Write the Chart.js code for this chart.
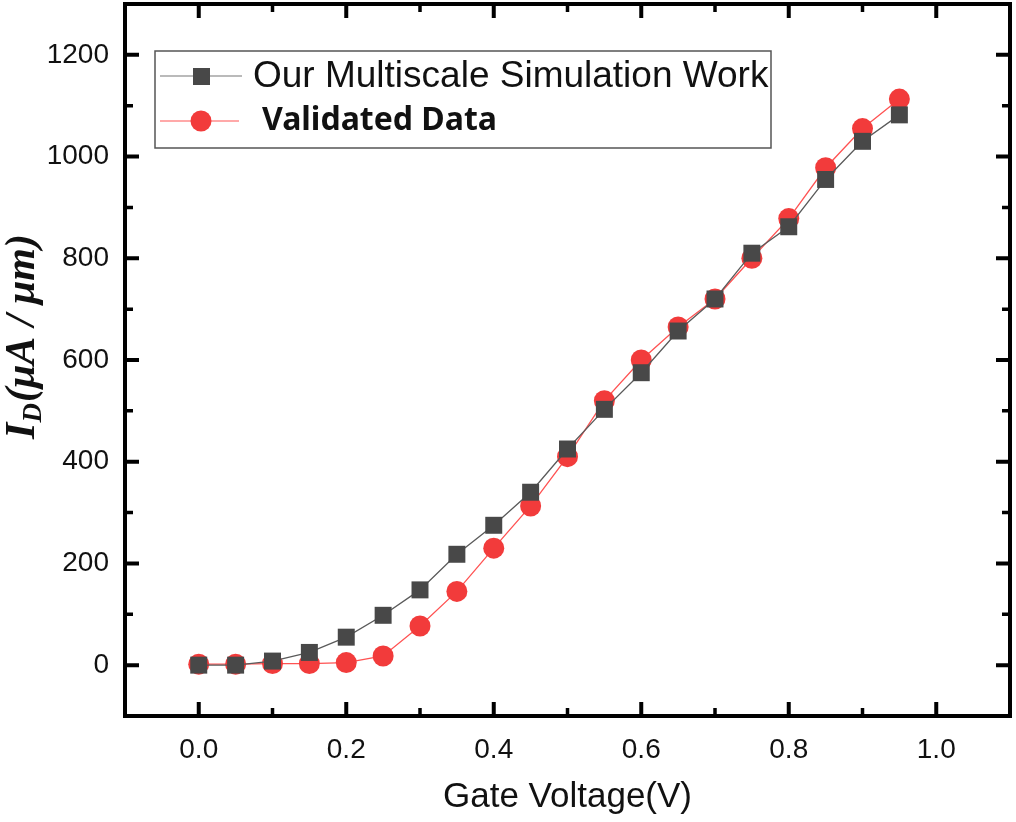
<!DOCTYPE html>
<html>
<head>
<meta charset="utf-8">
<script src="https://cdn.jsdelivr.net/npm/chart.js@4.4.1/dist/chart.umd.min.js"></script>
<style>
  html, body { margin: 0; padding: 0; background: #fff; }
  #wrap { width: 1016px; height: 822px; }
</style>
</head>
<body>
<div id="wrap"><canvas id="myChart" width="1016" height="822"></canvas></div>
<script>
// gate voltage steps (V)
const gateVoltage = [0.0, 0.05, 0.1, 0.15, 0.2, 0.25, 0.3, 0.35, 0.4, 0.45, 0.5, 0.55, 0.6, 0.65, 0.7, 0.75, 0.8, 0.85, 0.9, 0.95];
// drain current, uA/um
const simulationWork = [0, 0, 8, 25, 55, 98, 148, 218, 275, 340, 425, 503, 575, 657, 720, 810, 862, 955, 1030, 1082];
const validatedData = [2, 2, 3, 3, 5, 18, 77, 145, 230, 313, 410, 520, 600, 665, 720, 800, 878, 978, 1055, 1113];

const xTicks = [0.0, 0.2, 0.4, 0.6, 0.8, 1.0];
const xMinorTicks = [0.1, 0.3, 0.5, 0.7, 0.9];
const yTicks = [0, 200, 400, 600, 800, 1000, 1200];
const yMinorTicks = [100, 300, 500, 700, 900, 1100];

const seriesNames = ['Our Multiscale Simulation Work', 'Validated Data'];

function toPoints(xs, ys) {
    return xs.map((x, i) => ({ x: x, y: ys[i] }));
}

// frame, inside ticks on all 4 sides, legend box and y title
const framePlugin = {
    id: 'frame',
    afterDraw(chart) {
        const c = chart.ctx;
        const a = chart.chartArea;
        const xs = chart.scales.x, ys = chart.scales.y;
        c.save();
        c.strokeStyle = '#000';
        c.lineCap = 'butt';

        function tickX(v, len, w) {
            const px = xs.getPixelForValue(v);
            c.lineWidth = w;
            c.beginPath();
            c.moveTo(px, a.bottom); c.lineTo(px, a.bottom - len);
            c.moveTo(px, a.top); c.lineTo(px, a.top + len);
            c.stroke();
        }
        function tickY(v, len, w) {
            const py = ys.getPixelForValue(v);
            c.lineWidth = w;
            c.beginPath();
            c.moveTo(a.left, py); c.lineTo(a.left + len, py);
            c.moveTo(a.right, py); c.lineTo(a.right - len, py);
            c.stroke();
        }
        xTicks.forEach(v => tickX(v, 14, 4));
        xMinorTicks.forEach(v => tickX(v, 8, 3.5));
        yTicks.forEach(v => tickY(v, 14, 4));
        yMinorTicks.forEach(v => tickY(v, 8, 3.5));

        c.lineWidth = 4;
        c.strokeRect(a.left, a.top, a.right - a.left, a.bottom - a.top);

        // legend
        c.lineWidth = 1.5;
        c.strokeStyle = '#555';
        c.fillStyle = '#fff';
        c.fillRect(155, 51, 616, 97);
        c.strokeRect(155, 51, 616, 97);

        c.lineWidth = 1.2;
        c.strokeStyle = '#777';
        c.beginPath(); c.moveTo(160, 76); c.lineTo(242, 76); c.stroke();
        c.fillStyle = '#484848';
        c.fillRect(193, 68, 17, 17);

        c.strokeStyle = '#f55';
        c.beginPath(); c.moveTo(160, 121); c.lineTo(239, 121); c.stroke();
        c.fillStyle = '#f23b3b';
        c.beginPath(); c.arc(201, 121, 10.5, 0, Math.PI * 2); c.fill();

        c.fillStyle = '#111';
        c.textBaseline = 'middle';
        c.textAlign = 'left';
        c.font = '37px "Liberation Sans", Arial, sans-serif';
        c.fillText(seriesNames[0], 253, 77);
        c.font = 'bold 32px "Noto Sans", "Open Sans", sans-serif';
        c.fillText(seriesNames[1], 262, 121);

        // y axis title I_D(uA/um), rotated
        c.translate(21, 337);
        c.rotate(-Math.PI / 2);
        c.textBaseline = 'alphabetic';
        c.fillStyle = '#111';
        const big = 'bold italic 42px "Liberation Serif", "Times New Roman", serif';
        const small = 'bold italic 27px "Liberation Serif", "Times New Roman", serif';
        const rest = '(\u03BCA / \u03BCm)';
        c.font = big;
        const w1 = c.measureText('I').width;
        c.font = small;
        const w2 = c.measureText('D').width;
        c.font = big;
        const w3 = c.measureText(rest).width;
        let x0 = -(w1 + w2 + w3) / 2;
        c.fillText('I', x0, 13);
        c.font = small;
        c.fillText('D', x0 + w1, 20);
        c.font = big;
        c.fillText(rest, x0 + w1 + w2 + 1, 13);
        c.restore();
    }
};

const ctx = document.getElementById('myChart');
var chart = new Chart(ctx, {
    type: 'line',
    data: {
        datasets: [{
            label: seriesNames[0],
            data: toPoints(gateVoltage, simulationWork),
            borderColor: '#5a5a5a',
            borderWidth: 1.3,
            pointStyle: 'rect',
            pointRadius: 12,
            pointBackgroundColor: '#484848',
            pointBorderWidth: 0
        }, {
            label: seriesNames[1],
            data: toPoints(gateVoltage, validatedData),
            borderColor: '#ff5252',
            borderWidth: 1.3,
            pointStyle: 'circle',
            pointRadius: 10.5,
            pointBackgroundColor: '#f23b3b',
            pointBorderWidth: 0
        }]
    },
    options: {
        responsive: false,
        animation: false,
        layout: { autoPadding: false, padding: { top: 4, right: 6, left: 0, bottom: 0 } },
        plugins: {
            legend: { display: false },
            tooltip: { enabled: false }
        },
        scales: {
            x: {
                type: 'linear',
                min: -0.1,
                max: 1.1,
                afterBuildTicks: s => { s.ticks = xTicks.map(v => ({ value: v })); },
                afterFit: s => { s.height = 106; s.paddingLeft = 0; s.paddingRight = 0; },
                grid: { display: false, drawTicks: false },
                border: { display: false },
                ticks: {
                    padding: 17,
                    color: '#111',
                    font: { family: '"Liberation Sans", Arial, sans-serif', size: 28 },
                    callback: v => v.toFixed(1)
                },
                title: {
                    display: true,
                    text: 'Gate Voltage(V)',
                    color: '#111',
                    padding: { top: 12 },
                    font: { family: '"Liberation Sans", Arial, sans-serif', size: 35 }
                }
            },
            y: {
                min: -100,
                max: 1300,
                afterBuildTicks: s => { s.ticks = yTicks.map(v => ({ value: v })); },
                afterFit: s => { s.width = 125; s.paddingTop = 0; s.paddingBottom = 0; },
                grid: { display: false, drawTicks: false },
                border: { display: false },
                ticks: {
                    padding: 16,
                    color: '#111',
                    font: { family: '"Liberation Sans", Arial, sans-serif', size: 28 },
                    callback: v => String(v)
                }
            }
        }
    },
    plugins: [framePlugin]
});
</script>
</body>
</html>
